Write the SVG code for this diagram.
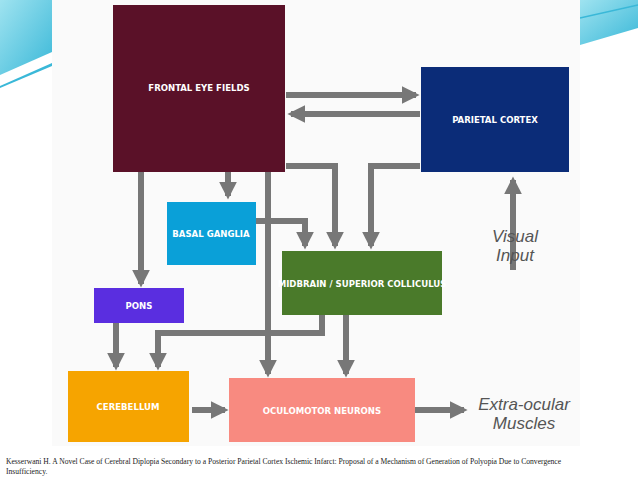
<svg xmlns="http://www.w3.org/2000/svg" width="638" height="478" viewBox="0 0 638 478">
<defs>
<marker id="ah" markerWidth="3" markerHeight="3" refX="2.4" refY="1.5" orient="auto" markerUnits="strokeWidth"><path d="M0,0 L3,1.5 L0,3 Z" fill="#777"/></marker>
<linearGradient id="cy" x1="0" y1="0" x2="1" y2="1"><stop offset="0" stop-color="#9fe3f0"/><stop offset="1" stop-color="#3ab8d8"/></linearGradient>
</defs>
<style>
.c{fill:none;stroke:#777;stroke-width:6;marker-end:url(#ah)}
.n{font-family:"DejaVu Sans Condensed","Liberation Sans",sans-serif;font-weight:bold;font-size:9.5px;fill:#fff;text-anchor:middle;dominant-baseline:central;font-stretch:condensed}
.l{font-family:"Liberation Sans",Arial,sans-serif;font-style:italic;font-size:17px;fill:#555;text-anchor:middle}
.cap{font-family:"Liberation Serif","Times New Roman",serif;font-size:7.6px;fill:#222}
</style>
<rect width="638" height="478" fill="#fff"/>
<path d="M0,0 H52 V52 L0,75 Z" fill="url(#cy)"/>
<path d="M0,86 L52,63 V66 L0,88 Z" fill="#3ab8d8"/>
<path d="M580,0 H638 V28 L580,45 Z" fill="url(#cy)"/>
<path d="M580,18 L638,5" stroke="#3ab8d8" stroke-width="1.5"/>
<rect x="52" y="0" width="528" height="446" fill="#fafafa"/>
<g id="connectors">
<path class="c" d="M286,95 H416"/>
<path class="c" d="M420,114 H291"/>
<path class="c" d="M286,166 H335 V246"/>
<path class="c" d="M420,166 H371 V246"/>
<path class="c" d="M256,221 H305 V246"/>
<path class="c" d="M228,172 V196"/>
<path class="c" d="M141,172 V284"/>
<path class="c" d="M268,172 V374"/>
<path class="c" d="M116,323 V367"/>
<path class="c" d="M322,315 V333 H158 V367"/>
<path class="c" d="M346,315 V374"/>
<path class="c" d="M192,410 H225"/>
<path class="c" d="M415,410 H464"/>
<path class="c" d="M513,270 V180"/>
</g>
<g id="fef"><rect x="113" y="5" width="172" height="167" fill="#5a1128"/><text class="n" x="199" y="87">FRONTAL EYE FIELDS</text></g>
<g id="parietal"><rect x="421" y="67" width="148" height="105" fill="#0b2c78"/><text class="n" x="495" y="119">PARIETAL CORTEX</text></g>
<g id="basal"><rect x="167" y="202" width="89" height="63" fill="#0aa0d8"/><text class="n" x="211" y="233">BASAL GANGLIA</text></g>
<g id="midbrain"><rect x="282" y="251" width="160" height="64" fill="#4a7a2a"/><text class="n" x="362" y="283">MIDBRAIN / SUPERIOR COLLICULUS</text></g>
<g id="pons"><rect x="94" y="288" width="90" height="35" fill="#5a2ee0"/><text class="n" x="139" y="305">PONS</text></g>
<g id="cerebellum"><rect x="68" y="371" width="121" height="71" fill="#f6a400"/><text class="n" x="128" y="406">CEREBELLUM</text></g>
<g id="oculomotor"><rect x="229" y="378" width="186" height="64" fill="#f88a80"/><text class="n" x="322" y="410">OCULOMOTOR NEURONS</text></g>
<text class="l" x="515" y="242">Visual</text>
<text class="l" x="515" y="261">Input</text>
<text class="l" x="524" y="410">Extra-ocular</text>
<text class="l" x="524" y="429">Muscles</text>
<text class="cap" x="6" y="464">Kesserwani H. A Novel Case of Cerebral Diplopia Secondary to a Posterior Parietal Cortex Ischemic Infarct: Proposal of a Mechanism of Generation of Polyopia Due to Convergence</text>
<text class="cap" x="6" y="474">Insufficiency.</text>
</svg>
